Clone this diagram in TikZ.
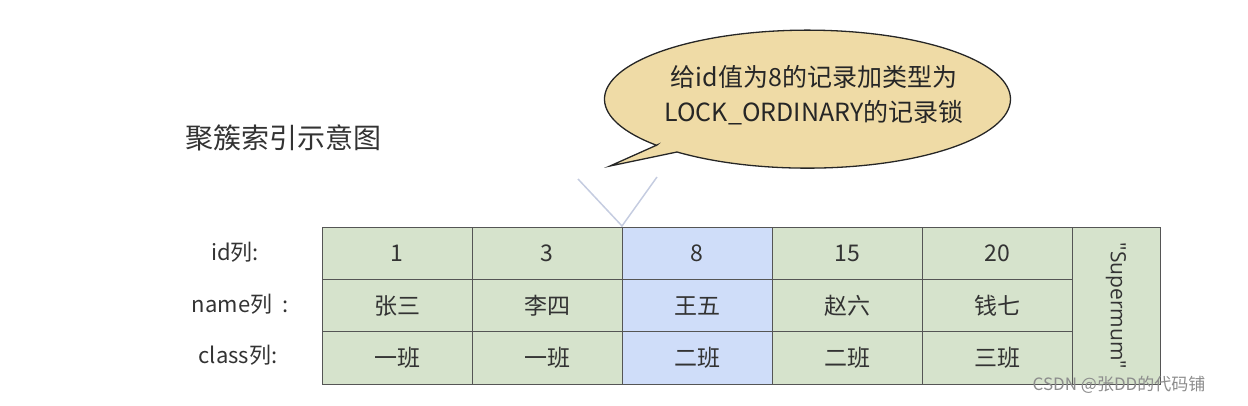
\documentclass[tikz,border=0pt]{standalone}
\usepackage{fontspec}
\setmainfont{Noto Sans CJK SC}
\newfontfamily\latinf[Ligatures=NoCommon]{Open Sans}
\definecolor{cg}{HTML}{D6E3CC}
\definecolor{cb}{HTML}{CFDDF9}
\definecolor{bd}{HTML}{555555}
\definecolor{bub}{HTML}{EFDBA6}
\definecolor{vl}{HTML}{C5CCE0}
\begin{document}
\begin{tikzpicture}[x=1pt,y=-1pt,
  cell/.style={draw=bd,line width=1pt,minimum width=150pt,minimum height=52.3pt,inner sep=0pt,font=\fontsize{23}{26}\selectfont,text=black!80},
  lab/.style={font=\fontsize{22}{26}\selectfont,text=black!80}]
\useasboundingbox (0,0) rectangle (1248,406);
\node[font=\fontsize{28}{32}\selectfont,text=black!80] (title) at (283,138) {聚簇索引示意图};
% bubble
\coordinate (ta) at (657,145); \coordinate (tip) at (610,166); \coordinate (tb) at (677,152);
\fill[bub,draw=black!85,line width=1.3pt] (ta) -- (tip) -- (tb)
  arc[start angle=130,end angle=-222,x radius=203,y radius=69] -- cycle;
\node[font=\fontsize{25}{35}\selectfont,align=center,text=black!85] (bt) at (814,95) {给id值为8的记录加类型为\\LOCK\_ORDINARY的记录锁};
% V
\coordinate (v1) at (578,179); \coordinate (v2) at (657,177); \coordinate (vt) at (622,226);
\draw[vl,line width=1.5pt] (v1) -- (vt) -- (v2);
% table
\foreach \i/\a/\b/\c in {0/1/张三/一班,1/3/李四/一班,2/8/王五/二班,3/15/赵六/二班,4/20/钱七/三班}{
  \pgfmathsetmacro\xx{397+150*\i}
  \ifnum\i=2 \def\fc{cb}\else\def\fc{cg}\fi
  \node[cell,fill=\fc] (a\i) at (\xx,253.5) {\a};
  \node[cell,fill=\fc] (b\i) at (\xx,305.8) {\b};
  \node[cell,fill=\fc] (c\i) at (\xx,358.1) {\c};
}
\node[draw=bd,line width=1pt,fill=cg,minimum width=88pt,minimum height=157pt,inner sep=0pt] (sup) at (1116,305.8) {};
\node[rotate=-90,font=\latinf\fontsize{21}{24}\selectfont,text=black!80] (supt) at (sup.center) {\char34 Supermum\char34};
\node[lab] (l1) at (235,252) {id列:};
\node[lab] (l2) at (240,304) {name列\ \ :};
\node[lab] (l3) at (238,355) {class列:};
\node[font=\fontsize{17}{20}\selectfont,text=black!45] (wm) at (1119,385) {CSDN @张DD的代码铺};
\end{tikzpicture}
\end{document}
